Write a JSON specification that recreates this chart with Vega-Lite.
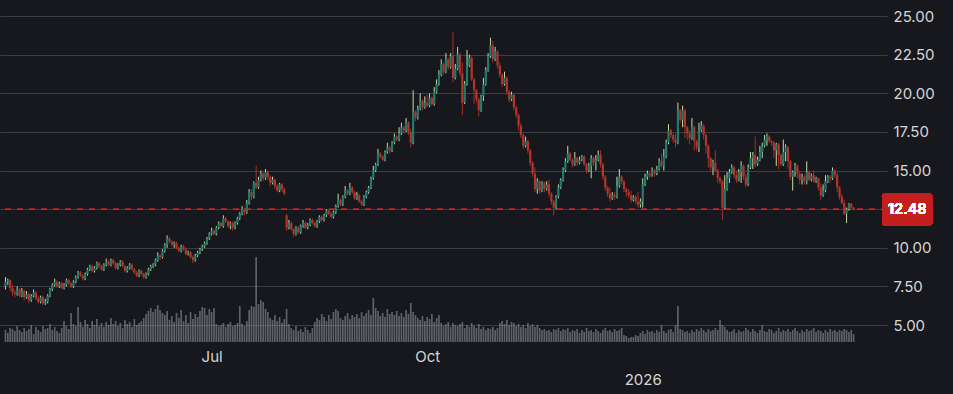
{
"$schema":"https://vega.github.io/schema/vega-lite/v6.json",
"width":887,"height":342,
"autosize":"none",
"padding":{"left":0,"top":0,"right":66,"bottom":52},
"background":"#16181d",
"config":{"view":{"stroke":null},"font":"Inter"},
"data":{"values":[
{"d":"2025-04-04","o":7.5,"h":8.1,"l":7.3,"c":7.8,"v":12},
{"d":"2025-04-05","o":7.8,"h":8.0,"l":7.6,"c":7.9,"v":9},
{"d":"2025-04-06","o":7.9,"h":7.95,"l":7.2,"c":7.4,"v":14},
{"d":"2025-04-07","o":7.4,"h":7.6,"l":6.9,"c":7.1,"v":13},
{"d":"2025-04-08","o":7.1,"h":7.3,"l":6.8,"c":7.0,"v":11},
{"d":"2025-04-09","o":7.0,"h":7.5,"l":6.9,"c":7.3,"v":16},
{"d":"2025-04-10","o":7.3,"h":7.4,"l":6.8,"c":6.9,"v":12},
{"d":"2025-04-11","o":6.9,"h":7.4,"l":6.8,"c":7.2,"v":10},
{"d":"2025-04-12","o":7.2,"h":7.3,"l":6.6,"c":6.8,"v":14},
{"d":"2025-04-13","o":6.8,"h":7.2,"l":6.7,"c":7.0,"v":11},
{"d":"2025-04-14","o":7.0,"h":7.1,"l":6.4,"c":6.6,"v":13},
{"d":"2025-04-15","o":6.6,"h":7.0,"l":6.5,"c":6.9,"v":17},
{"d":"2025-04-16","o":6.9,"h":7.3,"l":6.8,"c":7.1,"v":8},
{"d":"2025-04-17","o":7.1,"h":7.2,"l":6.6,"c":6.7,"v":15},
{"d":"2025-04-18","o":6.7,"h":6.9,"l":6.4,"c":6.5,"v":12},
{"d":"2025-04-19","o":6.5,"h":6.9,"l":6.4,"c":6.8,"v":10},
{"d":"2025-04-20","o":6.8,"h":6.9,"l":6.3,"c":6.4,"v":16},
{"d":"2025-04-21","o":6.4,"h":6.7,"l":6.3,"c":6.5,"v":13},
{"d":"2025-04-22","o":6.5,"h":7.0,"l":6.4,"c":6.9,"v":14},
{"d":"2025-04-23","o":6.9,"h":7.4,"l":6.8,"c":7.3,"v":18},
{"d":"2025-04-24","o":7.3,"h":7.7,"l":7.2,"c":7.6,"v":12},
{"d":"2025-04-25","o":7.6,"h":8.0,"l":7.5,"c":7.8,"v":15},
{"d":"2025-04-26","o":7.8,"h":7.9,"l":7.4,"c":7.5,"v":11},
{"d":"2025-04-27","o":7.5,"h":7.8,"l":7.4,"c":7.7,"v":9},
{"d":"2025-04-28","o":7.7,"h":7.8,"l":7.3,"c":7.4,"v":14},
{"d":"2025-04-29","o":7.4,"h":7.7,"l":7.3,"c":7.6,"v":21},
{"d":"2025-04-30","o":7.6,"h":8.0,"l":7.5,"c":7.9,"v":16},
{"d":"2025-05-01","o":7.9,"h":8.0,"l":7.6,"c":7.7,"v":13},
{"d":"2025-05-02","o":7.7,"h":7.8,"l":7.4,"c":7.5,"v":29},
{"d":"2025-05-03","o":7.5,"h":7.9,"l":7.4,"c":7.8,"v":18},
{"d":"2025-05-04","o":7.8,"h":8.2,"l":7.7,"c":8.1,"v":16},
{"d":"2025-05-05","o":8.1,"h":8.5,"l":8.0,"c":8.4,"v":35},
{"d":"2025-05-06","o":8.4,"h":8.5,"l":8.1,"c":8.2,"v":20},
{"d":"2025-05-07","o":8.2,"h":8.3,"l":7.9,"c":8.0,"v":15},
{"d":"2025-05-08","o":8.0,"h":8.4,"l":7.9,"c":8.3,"v":22},
{"d":"2025-05-09","o":8.3,"h":8.7,"l":8.2,"c":8.6,"v":18},
{"d":"2025-05-10","o":8.6,"h":8.9,"l":8.5,"c":8.8,"v":14},
{"d":"2025-05-11","o":8.8,"h":8.9,"l":8.4,"c":8.5,"v":21},
{"d":"2025-05-12","o":8.5,"h":8.8,"l":8.4,"c":8.7,"v":17},
{"d":"2025-05-13","o":8.7,"h":9.1,"l":8.6,"c":9.0,"v":23},
{"d":"2025-05-14","o":9.0,"h":9.1,"l":8.7,"c":8.8,"v":16},
{"d":"2025-05-15","o":8.8,"h":8.9,"l":8.5,"c":8.6,"v":19},
{"d":"2025-05-16","o":8.6,"h":9.0,"l":8.5,"c":8.9,"v":15},
{"d":"2025-05-17","o":8.9,"h":9.3,"l":8.8,"c":9.1,"v":20},
{"d":"2025-05-18","o":9.1,"h":9.2,"l":8.8,"c":8.9,"v":17},
{"d":"2025-05-19","o":8.9,"h":9.3,"l":8.8,"c":9.2,"v":24},
{"d":"2025-05-20","o":9.2,"h":9.3,"l":8.9,"c":9.0,"v":18},
{"d":"2025-05-21","o":9.0,"h":9.1,"l":8.6,"c":8.7,"v":21},
{"d":"2025-05-22","o":8.7,"h":9.0,"l":8.6,"c":8.9,"v":16},
{"d":"2025-05-23","o":8.9,"h":9.2,"l":8.8,"c":9.1,"v":19},
{"d":"2025-05-24","o":9.1,"h":9.2,"l":8.7,"c":8.8,"v":14},
{"d":"2025-05-25","o":8.8,"h":8.9,"l":8.4,"c":8.5,"v":22},
{"d":"2025-05-26","o":8.5,"h":8.8,"l":8.4,"c":8.7,"v":18},
{"d":"2025-05-27","o":8.7,"h":9.0,"l":8.6,"c":8.9,"v":20},
{"d":"2025-05-28","o":8.9,"h":9.0,"l":8.5,"c":8.6,"v":15},
{"d":"2025-05-29","o":8.6,"h":8.7,"l":8.3,"c":8.4,"v":23},
{"d":"2025-05-30","o":8.4,"h":8.5,"l":8.1,"c":8.2,"v":17},
{"d":"2025-05-31","o":8.2,"h":8.6,"l":8.1,"c":8.5,"v":19},
{"d":"2025-06-01","o":8.5,"h":8.6,"l":8.2,"c":8.3,"v":21},
{"d":"2025-06-02","o":8.3,"h":8.4,"l":8.0,"c":8.1,"v":24},
{"d":"2025-06-03","o":8.1,"h":8.4,"l":8.0,"c":8.3,"v":28},
{"d":"2025-06-04","o":8.3,"h":8.7,"l":8.2,"c":8.6,"v":31},
{"d":"2025-06-05","o":8.6,"h":8.9,"l":8.5,"c":8.8,"v":34},
{"d":"2025-06-06","o":8.8,"h":9.0,"l":8.7,"c":8.9,"v":30},
{"d":"2025-06-07","o":8.9,"h":9.3,"l":8.8,"c":9.2,"v":33},
{"d":"2025-06-08","o":9.2,"h":9.7,"l":9.1,"c":9.5,"v":37},
{"d":"2025-06-09","o":9.5,"h":9.6,"l":9.2,"c":9.4,"v":32},
{"d":"2025-06-10","o":9.4,"h":9.9,"l":9.3,"c":9.8,"v":29},
{"d":"2025-06-11","o":9.8,"h":10.3,"l":9.7,"c":10.2,"v":27},
{"d":"2025-06-12","o":10.2,"h":10.8,"l":10.0,"c":10.6,"v":31},
{"d":"2025-06-13","o":10.6,"h":10.7,"l":10.3,"c":10.4,"v":22},
{"d":"2025-06-14","o":10.4,"h":10.5,"l":10.1,"c":10.2,"v":26},
{"d":"2025-06-15","o":10.2,"h":10.4,"l":10.0,"c":10.3,"v":20},
{"d":"2025-06-16","o":10.3,"h":10.4,"l":9.9,"c":10.0,"v":29},
{"d":"2025-06-17","o":10.0,"h":10.1,"l":9.7,"c":9.8,"v":24},
{"d":"2025-06-18","o":9.8,"h":10.2,"l":9.7,"c":10.1,"v":32},
{"d":"2025-06-19","o":10.1,"h":10.2,"l":9.8,"c":9.9,"v":21},
{"d":"2025-06-20","o":9.9,"h":10.0,"l":9.5,"c":9.6,"v":27},
{"d":"2025-06-21","o":9.6,"h":9.8,"l":9.5,"c":9.7,"v":19},
{"d":"2025-06-22","o":9.7,"h":9.8,"l":9.3,"c":9.4,"v":30},
{"d":"2025-06-23","o":9.4,"h":9.5,"l":9.0,"c":9.2,"v":23},
{"d":"2025-06-24","o":9.2,"h":9.6,"l":9.1,"c":9.5,"v":28},
{"d":"2025-06-25","o":9.5,"h":9.8,"l":9.4,"c":9.7,"v":25},
{"d":"2025-06-26","o":9.7,"h":10.0,"l":9.6,"c":9.9,"v":31},
{"d":"2025-06-27","o":9.9,"h":10.2,"l":9.8,"c":10.1,"v":35},
{"d":"2025-06-28","o":10.1,"h":10.4,"l":10.0,"c":10.3,"v":34},
{"d":"2025-06-29","o":10.3,"h":10.7,"l":10.2,"c":10.6,"v":27},
{"d":"2025-06-30","o":10.6,"h":11.0,"l":10.5,"c":10.9,"v":33},
{"d":"2025-07-01","o":10.9,"h":11.3,"l":10.8,"c":11.1,"v":30},
{"d":"2025-07-02","o":11.1,"h":11.2,"l":10.8,"c":10.9,"v":34},
{"d":"2025-07-03","o":10.9,"h":11.4,"l":10.8,"c":11.3,"v":18},
{"d":"2025-07-04","o":11.3,"h":11.7,"l":11.2,"c":11.6,"v":16},
{"d":"2025-07-05","o":11.6,"h":11.7,"l":11.3,"c":11.4,"v":17},
{"d":"2025-07-06","o":11.4,"h":12.1,"l":11.3,"c":11.9,"v":19},
{"d":"2025-07-07","o":11.9,"h":12.0,"l":11.6,"c":11.7,"v":15},
{"d":"2025-07-08","o":11.7,"h":11.8,"l":11.3,"c":11.4,"v":18},
{"d":"2025-07-09","o":11.4,"h":11.7,"l":11.2,"c":11.6,"v":20},
{"d":"2025-07-10","o":11.6,"h":11.7,"l":11.1,"c":11.3,"v":16},
{"d":"2025-07-11","o":11.3,"h":11.7,"l":11.2,"c":11.6,"v":17},
{"d":"2025-07-12","o":11.6,"h":12.0,"l":11.5,"c":11.9,"v":19},
{"d":"2025-07-13","o":11.9,"h":12.3,"l":11.8,"c":12.2,"v":36},
{"d":"2025-07-14","o":12.2,"h":12.7,"l":12.1,"c":12.5,"v":18},
{"d":"2025-07-15","o":12.5,"h":12.6,"l":12.1,"c":12.3,"v":16},
{"d":"2025-07-16","o":12.3,"h":13.1,"l":12.2,"c":12.9,"v":21},
{"d":"2025-07-17","o":12.9,"h":13.8,"l":12.8,"c":13.6,"v":32},
{"d":"2025-07-18","o":13.6,"h":13.8,"l":13.1,"c":13.3,"v":36},
{"d":"2025-07-19","o":13.3,"h":14.3,"l":13.2,"c":14.2,"v":35},
{"d":"2025-07-20","o":14.2,"h":15.3,"l":13.8,"c":13.9,"v":85},
{"d":"2025-07-21","o":13.9,"h":14.6,"l":13.8,"c":14.4,"v":38},
{"d":"2025-07-22","o":14.4,"h":15.0,"l":14.3,"c":14.8,"v":42},
{"d":"2025-07-23","o":14.8,"h":14.9,"l":14.3,"c":14.5,"v":40},
{"d":"2025-07-24","o":14.5,"h":15.1,"l":14.4,"c":14.9,"v":33},
{"d":"2025-07-25","o":14.9,"h":15.0,"l":14.4,"c":14.6,"v":30},
{"d":"2025-07-26","o":14.6,"h":14.7,"l":14.0,"c":14.2,"v":24},
{"d":"2025-07-27","o":14.2,"h":14.6,"l":14.1,"c":14.4,"v":22},
{"d":"2025-07-28","o":14.4,"h":14.5,"l":13.8,"c":14.0,"v":27},
{"d":"2025-07-29","o":14.0,"h":14.1,"l":13.6,"c":13.7,"v":21},
{"d":"2025-07-30","o":13.7,"h":14.2,"l":13.6,"c":14.1,"v":25},
{"d":"2025-07-31","o":14.1,"h":14.2,"l":13.6,"c":13.8,"v":19},
{"d":"2025-08-01","o":13.8,"h":13.9,"l":13.4,"c":13.5,"v":23},
{"d":"2025-08-02","o":12.1,"h":12.2,"l":11.1,"c":11.3,"v":33},
{"d":"2025-08-03","o":11.3,"h":11.8,"l":11.2,"c":11.6,"v":18},
{"d":"2025-08-04","o":11.6,"h":11.7,"l":11.1,"c":11.2,"v":14},
{"d":"2025-08-05","o":11.2,"h":11.3,"l":10.7,"c":10.9,"v":12},
{"d":"2025-08-06","o":10.9,"h":11.4,"l":10.8,"c":11.3,"v":16},
{"d":"2025-08-07","o":11.3,"h":11.4,"l":10.9,"c":11.0,"v":11},
{"d":"2025-08-08","o":11.0,"h":11.5,"l":10.9,"c":11.4,"v":13},
{"d":"2025-08-09","o":11.4,"h":11.8,"l":11.3,"c":11.6,"v":10},
{"d":"2025-08-10","o":11.6,"h":11.7,"l":11.2,"c":11.3,"v":15},
{"d":"2025-08-11","o":11.3,"h":11.6,"l":11.2,"c":11.5,"v":12},
{"d":"2025-08-12","o":11.5,"h":11.9,"l":11.4,"c":11.8,"v":9},
{"d":"2025-08-13","o":11.8,"h":11.9,"l":11.5,"c":11.6,"v":14},
{"d":"2025-08-14","o":11.6,"h":11.7,"l":11.3,"c":11.4,"v":20},
{"d":"2025-08-15","o":11.4,"h":11.8,"l":11.3,"c":11.7,"v":24},
{"d":"2025-08-16","o":11.7,"h":12.1,"l":11.6,"c":12.0,"v":22},
{"d":"2025-08-17","o":12.0,"h":12.1,"l":11.7,"c":11.8,"v":28},
{"d":"2025-08-18","o":11.8,"h":12.2,"l":11.7,"c":12.1,"v":25},
{"d":"2025-08-19","o":12.1,"h":12.5,"l":12.0,"c":12.4,"v":21},
{"d":"2025-08-20","o":12.4,"h":12.5,"l":12.1,"c":12.2,"v":27},
{"d":"2025-08-21","o":12.2,"h":12.3,"l":11.9,"c":12.0,"v":23},
{"d":"2025-08-22","o":12.0,"h":12.4,"l":11.9,"c":12.3,"v":30},
{"d":"2025-08-23","o":12.3,"h":12.8,"l":12.2,"c":12.7,"v":33},
{"d":"2025-08-24","o":12.7,"h":13.5,"l":12.6,"c":13.1,"v":31},
{"d":"2025-08-25","o":13.1,"h":13.2,"l":12.7,"c":12.8,"v":24},
{"d":"2025-08-26","o":12.8,"h":13.4,"l":12.7,"c":13.3,"v":22},
{"d":"2025-08-27","o":13.3,"h":14.0,"l":13.2,"c":13.7,"v":26},
{"d":"2025-08-28","o":13.7,"h":13.8,"l":13.4,"c":13.5,"v":29},
{"d":"2025-08-29","o":13.5,"h":14.2,"l":13.4,"c":13.9,"v":23},
{"d":"2025-08-30","o":13.9,"h":14.0,"l":13.5,"c":13.6,"v":27},
{"d":"2025-08-31","o":13.6,"h":13.7,"l":13.1,"c":13.2,"v":25},
{"d":"2025-09-01","o":13.2,"h":13.6,"l":13.1,"c":13.4,"v":28},
{"d":"2025-09-02","o":13.4,"h":13.5,"l":12.9,"c":13.0,"v":24},
{"d":"2025-09-03","o":13.0,"h":13.1,"l":12.7,"c":12.8,"v":30},
{"d":"2025-09-04","o":12.8,"h":13.4,"l":12.7,"c":13.3,"v":26},
{"d":"2025-09-05","o":13.3,"h":13.7,"l":13.2,"c":13.6,"v":29},
{"d":"2025-09-06","o":13.6,"h":14.0,"l":13.5,"c":13.9,"v":32},
{"d":"2025-09-07","o":13.9,"h":14.6,"l":13.8,"c":14.5,"v":27},
{"d":"2025-09-08","o":14.5,"h":15.3,"l":14.4,"c":15.0,"v":44},
{"d":"2025-09-09","o":15.0,"h":15.5,"l":14.9,"c":15.4,"v":34},
{"d":"2025-09-10","o":15.4,"h":16.4,"l":15.3,"c":16.1,"v":31},
{"d":"2025-09-11","o":16.1,"h":16.2,"l":15.8,"c":15.9,"v":26},
{"d":"2025-09-12","o":15.9,"h":16.0,"l":15.6,"c":15.7,"v":29},
{"d":"2025-09-13","o":15.7,"h":16.3,"l":15.6,"c":16.2,"v":25},
{"d":"2025-09-14","o":16.2,"h":16.8,"l":16.1,"c":16.5,"v":33},
{"d":"2025-09-15","o":16.5,"h":16.6,"l":16.1,"c":16.3,"v":28},
{"d":"2025-09-16","o":16.3,"h":16.9,"l":16.2,"c":16.8,"v":30},
{"d":"2025-09-17","o":16.8,"h":17.4,"l":16.7,"c":17.2,"v":27},
{"d":"2025-09-18","o":17.2,"h":17.3,"l":16.9,"c":17.0,"v":31},
{"d":"2025-09-19","o":17.0,"h":17.8,"l":16.9,"c":17.4,"v":26},
{"d":"2025-09-20","o":17.4,"h":18.1,"l":17.3,"c":17.8,"v":29},
{"d":"2025-09-21","o":17.8,"h":17.9,"l":17.4,"c":17.6,"v":25},
{"d":"2025-09-22","o":17.6,"h":18.4,"l":17.5,"c":18.1,"v":32},
{"d":"2025-09-23","o":18.1,"h":18.2,"l":17.3,"c":17.5,"v":28},
{"d":"2025-09-24","o":17.5,"h":17.7,"l":16.5,"c":16.8,"v":39},
{"d":"2025-09-25","o":16.8,"h":20.2,"l":16.7,"c":18.8,"v":30},
{"d":"2025-09-26","o":18.8,"h":18.9,"l":18.2,"c":18.4,"v":27},
{"d":"2025-09-27","o":18.4,"h":19.2,"l":18.3,"c":19.0,"v":24},
{"d":"2025-09-28","o":19.0,"h":20.0,"l":18.9,"c":19.5,"v":22},
{"d":"2025-09-29","o":19.5,"h":19.6,"l":18.9,"c":19.1,"v":26},
{"d":"2025-09-30","o":19.1,"h":19.8,"l":19.0,"c":19.4,"v":21},
{"d":"2025-10-01","o":19.4,"h":19.9,"l":19.1,"c":19.2,"v":25},
{"d":"2025-10-02","o":19.2,"h":20.0,"l":19.1,"c":19.7,"v":23},
{"d":"2025-10-03","o":19.7,"h":19.8,"l":19.2,"c":19.3,"v":28},
{"d":"2025-10-04","o":19.3,"h":20.4,"l":19.2,"c":20.1,"v":20},
{"d":"2025-10-05","o":20.1,"h":20.9,"l":20.0,"c":20.6,"v":24},
{"d":"2025-10-06","o":20.6,"h":21.5,"l":20.5,"c":21.2,"v":27},
{"d":"2025-10-07","o":21.2,"h":22.2,"l":21.1,"c":21.9,"v":19},
{"d":"2025-10-08","o":21.9,"h":22.0,"l":21.2,"c":21.4,"v":16},
{"d":"2025-10-09","o":21.4,"h":22.6,"l":21.3,"c":22.2,"v":18},
{"d":"2025-10-10","o":22.2,"h":22.3,"l":21.5,"c":21.7,"v":20},
{"d":"2025-10-11","o":21.7,"h":22.6,"l":21.6,"c":22.4,"v":15},
{"d":"2025-10-12","o":22.4,"h":24.0,"l":20.7,"c":21.0,"v":19},
{"d":"2025-10-13","o":21.0,"h":21.9,"l":20.9,"c":21.6,"v":17},
{"d":"2025-10-14","o":21.6,"h":23.0,"l":21.5,"c":22.5,"v":16},
{"d":"2025-10-15","o":22.5,"h":22.6,"l":21.1,"c":21.3,"v":18},
{"d":"2025-10-16","o":21.3,"h":22.0,"l":18.6,"c":19.4,"v":20},
{"d":"2025-10-17","o":19.4,"h":20.8,"l":19.3,"c":20.6,"v":14},
{"d":"2025-10-18","o":20.6,"h":22.8,"l":20.5,"c":21.8,"v":17},
{"d":"2025-10-19","o":21.8,"h":22.5,"l":21.7,"c":22.3,"v":15},
{"d":"2025-10-20","o":22.3,"h":22.4,"l":20.8,"c":20.9,"v":19},
{"d":"2025-10-21","o":20.9,"h":21.0,"l":19.3,"c":20.2,"v":16},
{"d":"2025-10-22","o":20.2,"h":20.3,"l":19.4,"c":19.6,"v":14},
{"d":"2025-10-23","o":19.6,"h":19.7,"l":18.5,"c":18.9,"v":18},
{"d":"2025-10-24","o":18.9,"h":19.9,"l":18.8,"c":19.8,"v":13},
{"d":"2025-10-25","o":19.8,"h":21.0,"l":19.5,"c":20.6,"v":15},
{"d":"2025-10-26","o":20.6,"h":21.7,"l":20.5,"c":21.5,"v":12},
{"d":"2025-10-27","o":21.5,"h":22.6,"l":21.4,"c":22.4,"v":14},
{"d":"2025-10-28","o":22.4,"h":23.6,"l":22.3,"c":23.1,"v":13},
{"d":"2025-10-29","o":23.1,"h":23.4,"l":22.0,"c":22.2,"v":15},
{"d":"2025-10-30","o":22.2,"h":23.0,"l":22.1,"c":22.7,"v":12},
{"d":"2025-10-31","o":22.7,"h":22.8,"l":21.6,"c":21.8,"v":14},
{"d":"2025-11-01","o":21.8,"h":22.0,"l":21.0,"c":21.2,"v":19},
{"d":"2025-11-02","o":21.2,"h":21.3,"l":20.4,"c":20.6,"v":21},
{"d":"2025-11-03","o":20.6,"h":21.4,"l":20.5,"c":21.0,"v":18},
{"d":"2025-11-04","o":21.0,"h":21.1,"l":19.9,"c":20.1,"v":22},
{"d":"2025-11-05","o":20.1,"h":20.2,"l":19.4,"c":19.6,"v":17},
{"d":"2025-11-06","o":19.6,"h":20.1,"l":19.5,"c":19.9,"v":20},
{"d":"2025-11-07","o":19.9,"h":20.0,"l":18.9,"c":19.1,"v":19},
{"d":"2025-11-08","o":19.1,"h":19.2,"l":18.4,"c":18.6,"v":16},
{"d":"2025-11-09","o":18.6,"h":18.7,"l":17.6,"c":17.9,"v":18},
{"d":"2025-11-10","o":17.9,"h":18.1,"l":17.1,"c":17.3,"v":15},
{"d":"2025-11-11","o":17.3,"h":17.4,"l":16.4,"c":16.6,"v":17},
{"d":"2025-11-12","o":16.6,"h":17.2,"l":16.5,"c":16.9,"v":14},
{"d":"2025-11-13","o":16.9,"h":17.0,"l":16.1,"c":16.3,"v":19},
{"d":"2025-11-14","o":16.3,"h":16.4,"l":15.3,"c":15.5,"v":16},
{"d":"2025-11-15","o":15.5,"h":15.6,"l":14.6,"c":14.8,"v":18},
{"d":"2025-11-16","o":14.8,"h":15.2,"l":13.6,"c":13.8,"v":15},
{"d":"2025-11-17","o":13.8,"h":14.5,"l":13.5,"c":14.3,"v":17},
{"d":"2025-11-18","o":14.3,"h":14.4,"l":13.5,"c":13.7,"v":14},
{"d":"2025-11-19","o":13.7,"h":14.3,"l":13.6,"c":14.2,"v":12},
{"d":"2025-11-20","o":14.2,"h":14.3,"l":13.6,"c":13.8,"v":13},
{"d":"2025-11-21","o":13.8,"h":14.3,"l":13.7,"c":14.1,"v":11},
{"d":"2025-11-22","o":14.1,"h":14.4,"l":13.3,"c":13.5,"v":12},
{"d":"2025-11-23","o":13.5,"h":13.6,"l":12.8,"c":13.0,"v":10},
{"d":"2025-11-24","o":13.0,"h":13.1,"l":12.1,"c":12.6,"v":13},
{"d":"2025-11-25","o":12.6,"h":13.4,"l":12.5,"c":13.3,"v":12},
{"d":"2025-11-26","o":13.3,"h":14.1,"l":13.2,"c":13.9,"v":14},
{"d":"2025-11-27","o":13.9,"h":14.5,"l":13.8,"c":14.4,"v":11},
{"d":"2025-11-28","o":14.4,"h":15.2,"l":14.3,"c":15.0,"v":13},
{"d":"2025-11-29","o":15.0,"h":15.8,"l":14.9,"c":15.6,"v":12},
{"d":"2025-11-30","o":15.6,"h":16.6,"l":15.5,"c":16.1,"v":14},
{"d":"2025-12-01","o":16.1,"h":16.2,"l":15.6,"c":15.7,"v":10},
{"d":"2025-12-02","o":15.7,"h":15.8,"l":15.2,"c":15.4,"v":12},
{"d":"2025-12-03","o":15.4,"h":16.2,"l":15.3,"c":15.8,"v":11},
{"d":"2025-12-04","o":15.8,"h":15.9,"l":15.3,"c":15.5,"v":13},
{"d":"2025-12-05","o":15.5,"h":15.9,"l":15.4,"c":15.7,"v":9},
{"d":"2025-12-06","o":15.7,"h":16.0,"l":15.6,"c":15.9,"v":12},
{"d":"2025-12-07","o":15.9,"h":16.0,"l":15.3,"c":15.4,"v":10},
{"d":"2025-12-08","o":15.4,"h":15.5,"l":14.8,"c":15.0,"v":14},
{"d":"2025-12-09","o":15.0,"h":15.5,"l":14.9,"c":15.3,"v":11},
{"d":"2025-12-10","o":15.3,"h":16.0,"l":14.5,"c":15.8,"v":12},
{"d":"2025-12-11","o":15.8,"h":15.9,"l":15.3,"c":15.5,"v":10},
{"d":"2025-12-12","o":15.5,"h":16.0,"l":15.0,"c":15.7,"v":13},
{"d":"2025-12-13","o":15.7,"h":16.3,"l":15.6,"c":16.0,"v":11},
{"d":"2025-12-14","o":16.0,"h":16.3,"l":15.2,"c":15.4,"v":9},
{"d":"2025-12-15","o":15.4,"h":15.5,"l":14.4,"c":14.6,"v":12},
{"d":"2025-12-16","o":14.6,"h":14.7,"l":13.7,"c":13.9,"v":14},
{"d":"2025-12-17","o":13.9,"h":14.0,"l":13.3,"c":13.5,"v":11},
{"d":"2025-12-18","o":13.5,"h":13.9,"l":13.0,"c":13.2,"v":12},
{"d":"2025-12-19","o":13.2,"h":13.6,"l":13.1,"c":13.4,"v":10},
{"d":"2025-12-20","o":13.4,"h":13.6,"l":13.1,"c":13.3,"v":13},
{"d":"2025-12-21","o":13.3,"h":14.6,"l":13.2,"c":14.0,"v":11},
{"d":"2025-12-22","o":14.0,"h":15.1,"l":13.9,"c":14.6,"v":12},
{"d":"2025-12-23","o":14.6,"h":14.7,"l":14.1,"c":14.3,"v":14},
{"d":"2025-12-24","o":14.3,"h":14.4,"l":13.6,"c":13.8,"v":7},
{"d":"2025-12-25","o":13.8,"h":13.9,"l":13.3,"c":13.6,"v":6},
{"d":"2025-12-26","o":13.6,"h":13.8,"l":13.2,"c":13.4,"v":4},
{"d":"2025-12-27","o":13.4,"h":13.7,"l":12.9,"c":13.1,"v":5},
{"d":"2025-12-28","o":13.1,"h":13.4,"l":13.0,"c":13.3,"v":5},
{"d":"2025-12-29","o":13.3,"h":13.4,"l":12.8,"c":13.0,"v":7},
{"d":"2025-12-30","o":13.0,"h":13.6,"l":12.6,"c":12.8,"v":6},
{"d":"2025-12-31","o":12.8,"h":13.2,"l":12.6,"c":13.0,"v":9},
{"d":"2026-01-01","o":13.0,"h":14.5,"l":12.6,"c":14.1,"v":11},
{"d":"2026-01-02","o":14.1,"h":14.8,"l":14.0,"c":14.6,"v":8},
{"d":"2026-01-03","o":14.6,"h":15.0,"l":14.4,"c":14.8,"v":12},
{"d":"2026-01-04","o":14.8,"h":14.9,"l":14.5,"c":14.7,"v":10},
{"d":"2026-01-05","o":14.7,"h":15.2,"l":14.6,"c":15.0,"v":11},
{"d":"2026-01-06","o":15.0,"h":15.1,"l":14.6,"c":14.8,"v":9},
{"d":"2026-01-07","o":14.8,"h":15.3,"l":14.7,"c":15.1,"v":12},
{"d":"2026-01-08","o":15.1,"h":15.8,"l":15.0,"c":15.6,"v":10},
{"d":"2026-01-09","o":15.6,"h":16.1,"l":15.2,"c":15.3,"v":17},
{"d":"2026-01-10","o":15.3,"h":16.4,"l":15.0,"c":15.9,"v":11},
{"d":"2026-01-11","o":15.9,"h":17.0,"l":15.8,"c":16.8,"v":9},
{"d":"2026-01-12","o":16.8,"h":18.0,"l":16.7,"c":17.6,"v":12},
{"d":"2026-01-13","o":17.6,"h":17.7,"l":17.1,"c":17.3,"v":13},
{"d":"2026-01-14","o":17.3,"h":17.4,"l":16.8,"c":17.0,"v":10},
{"d":"2026-01-15","o":17.0,"h":17.4,"l":16.5,"c":16.8,"v":17},
{"d":"2026-01-16","o":16.8,"h":19.4,"l":16.7,"c":18.9,"v":36},
{"d":"2026-01-17","o":18.9,"h":19.0,"l":18.1,"c":18.3,"v":13},
{"d":"2026-01-18","o":18.3,"h":19.2,"l":17.8,"c":18.9,"v":12},
{"d":"2026-01-19","o":18.9,"h":19.0,"l":17.1,"c":17.8,"v":10},
{"d":"2026-01-20","o":17.8,"h":17.9,"l":17.0,"c":17.4,"v":11},
{"d":"2026-01-21","o":17.4,"h":17.6,"l":16.7,"c":17.1,"v":9},
{"d":"2026-01-22","o":17.1,"h":18.4,"l":17.0,"c":17.8,"v":12},
{"d":"2026-01-23","o":17.8,"h":17.9,"l":16.3,"c":16.9,"v":10},
{"d":"2026-01-24","o":16.9,"h":17.0,"l":16.3,"c":16.5,"v":13},
{"d":"2026-01-25","o":16.5,"h":18.1,"l":16.2,"c":17.6,"v":11},
{"d":"2026-01-26","o":17.6,"h":18.2,"l":17.5,"c":17.9,"v":14},
{"d":"2026-01-27","o":17.9,"h":18.0,"l":17.0,"c":17.3,"v":12},
{"d":"2026-01-28","o":17.3,"h":17.4,"l":16.1,"c":16.6,"v":10},
{"d":"2026-01-29","o":16.6,"h":16.7,"l":15.2,"c":15.8,"v":13},
{"d":"2026-01-30","o":15.8,"h":15.9,"l":15.0,"c":15.2,"v":11},
{"d":"2026-01-31","o":15.2,"h":15.7,"l":14.7,"c":15.5,"v":12},
{"d":"2026-02-01","o":15.5,"h":16.3,"l":14.9,"c":15.0,"v":14},
{"d":"2026-02-02","o":15.0,"h":15.1,"l":14.2,"c":14.5,"v":12},
{"d":"2026-02-03","o":14.5,"h":14.6,"l":14.1,"c":14.3,"v":22},
{"d":"2026-02-04","o":14.3,"h":14.4,"l":11.8,"c":12.6,"v":17},
{"d":"2026-02-05","o":12.6,"h":14.7,"l":12.5,"c":13.8,"v":15},
{"d":"2026-02-06","o":13.8,"h":14.9,"l":13.7,"c":14.5,"v":12},
{"d":"2026-02-07","o":14.5,"h":15.1,"l":14.2,"c":14.9,"v":10},
{"d":"2026-02-08","o":14.9,"h":15.4,"l":14.8,"c":15.2,"v":11},
{"d":"2026-02-09","o":15.2,"h":15.3,"l":14.5,"c":14.7,"v":13},
{"d":"2026-02-10","o":14.7,"h":15.0,"l":14.2,"c":14.4,"v":9},
{"d":"2026-02-11","o":14.4,"h":15.1,"l":14.3,"c":14.9,"v":12},
{"d":"2026-02-12","o":14.9,"h":15.6,"l":14.2,"c":15.3,"v":10},
{"d":"2026-02-13","o":15.3,"h":15.4,"l":14.4,"c":14.6,"v":11},
{"d":"2026-02-14","o":14.6,"h":14.8,"l":13.9,"c":14.1,"v":14},
{"d":"2026-02-15","o":14.1,"h":15.4,"l":14.0,"c":15.2,"v":12},
{"d":"2026-02-16","o":15.2,"h":16.2,"l":15.1,"c":15.8,"v":10},
{"d":"2026-02-17","o":15.8,"h":16.2,"l":15.1,"c":16.0,"v":13},
{"d":"2026-02-18","o":16.0,"h":17.2,"l":15.2,"c":15.4,"v":11},
{"d":"2026-02-19","o":15.4,"h":15.9,"l":15.3,"c":15.7,"v":9},
{"d":"2026-02-20","o":15.7,"h":16.6,"l":15.6,"c":16.2,"v":12},
{"d":"2026-02-21","o":16.2,"h":16.8,"l":15.8,"c":16.6,"v":17},
{"d":"2026-02-22","o":16.6,"h":17.3,"l":16.5,"c":17.0,"v":11},
{"d":"2026-02-23","o":17.0,"h":17.4,"l":16.6,"c":17.2,"v":10},
{"d":"2026-02-24","o":17.2,"h":17.3,"l":16.8,"c":16.9,"v":13},
{"d":"2026-02-25","o":16.9,"h":17.0,"l":16.6,"c":16.8,"v":12},
{"d":"2026-02-26","o":16.8,"h":16.9,"l":15.8,"c":16.3,"v":9},
{"d":"2026-02-27","o":16.3,"h":16.8,"l":15.3,"c":16.7,"v":11},
{"d":"2026-02-28","o":16.7,"h":16.8,"l":15.1,"c":16.0,"v":14},
{"d":"2026-03-01","o":16.0,"h":16.1,"l":15.3,"c":15.4,"v":10},
{"d":"2026-03-02","o":15.4,"h":17.0,"l":15.3,"c":16.2,"v":12},
{"d":"2026-03-03","o":16.2,"h":16.7,"l":15.6,"c":16.5,"v":11},
{"d":"2026-03-04","o":16.5,"h":16.6,"l":15.1,"c":15.6,"v":13},
{"d":"2026-03-05","o":15.6,"h":15.7,"l":14.4,"c":14.6,"v":10},
{"d":"2026-03-06","o":14.6,"h":15.0,"l":13.7,"c":14.9,"v":12},
{"d":"2026-03-07","o":14.9,"h":15.5,"l":14.6,"c":15.3,"v":14},
{"d":"2026-03-08","o":15.3,"h":15.4,"l":14.5,"c":14.8,"v":11},
{"d":"2026-03-09","o":14.8,"h":14.9,"l":14.1,"c":14.4,"v":9},
{"d":"2026-03-10","o":14.4,"h":14.8,"l":14.1,"c":14.6,"v":12},
{"d":"2026-03-11","o":14.6,"h":14.7,"l":14.1,"c":14.3,"v":10},
{"d":"2026-03-12","o":14.3,"h":15.6,"l":14.1,"c":14.9,"v":13},
{"d":"2026-03-13","o":14.9,"h":15.0,"l":14.3,"c":14.4,"v":11},
{"d":"2026-03-14","o":14.4,"h":14.8,"l":14.3,"c":14.7,"v":12},
{"d":"2026-03-15","o":14.7,"h":15.0,"l":14.2,"c":14.3,"v":14},
{"d":"2026-03-16","o":14.3,"h":14.6,"l":14.2,"c":14.5,"v":10},
{"d":"2026-03-17","o":14.5,"h":14.5,"l":13.7,"c":13.9,"v":12},
{"d":"2026-03-18","o":13.9,"h":14.2,"l":13.1,"c":13.4,"v":11},
{"d":"2026-03-19","o":13.4,"h":14.1,"l":13.3,"c":13.7,"v":9},
{"d":"2026-03-20","o":13.7,"h":14.7,"l":13.6,"c":14.3,"v":12},
{"d":"2026-03-21","o":14.3,"h":14.7,"l":14.2,"c":14.6,"v":10},
{"d":"2026-03-22","o":14.6,"h":14.7,"l":14.2,"c":14.5,"v":13},
{"d":"2026-03-23","o":14.5,"h":15.2,"l":14.4,"c":15.0,"v":11},
{"d":"2026-03-24","o":15.0,"h":15.1,"l":14.5,"c":14.7,"v":12},
{"d":"2026-03-25","o":14.7,"h":14.9,"l":13.6,"c":13.9,"v":10},
{"d":"2026-03-26","o":13.9,"h":14.0,"l":13.1,"c":13.3,"v":12},
{"d":"2026-03-27","o":13.3,"h":13.5,"l":12.8,"c":12.9,"v":11},
{"d":"2026-03-28","o":12.9,"h":13.1,"l":12.1,"c":12.2,"v":13},
{"d":"2026-03-29","o":12.2,"h":12.6,"l":11.6,"c":12.5,"v":12},
{"d":"2026-03-30","o":12.5,"h":12.9,"l":12.4,"c":12.85,"v":10},
{"d":"2026-03-31","o":12.85,"h":12.9,"l":12.55,"c":12.6,"v":12},
{"d":"2026-04-01","o":12.6,"h":12.62,"l":12.45,"c":12.48,"v":8}
]},
"layer":[
{"mark":{"type":"bar","width":1.7,"color":"#9a9ca3","opacity":0.55},
 "encoding":{
  "x":{"field":"d","type":"temporal",
   "scale":{"type":"utc","domain":[{"year":2025,"month":4,"date":3,"hours":19,"minutes":8,"utc":true},{"year":2026,"month":4,"date":13,"hours":3,"utc":true}]},
   "axis":{"title":null,"grid":false,"ticks":false,"domain":false,"labelPadding":7,"labelFontSize":15,"labelColor":"#d6d6d6","labelFont":"Inter","labelOverlap":false,"labelFlush":false,"labelLineHeight":23,
    "values":[{"year":2025,"month":7,"date":1,"utc":true},{"year":2025,"month":10,"date":1,"utc":true},{"year":2026,"month":1,"date":1,"utc":true}],
    "labelExpr":"utcyear(datum.value) == 2026 ? ['', '2026'] : utcFormat(datum.value, '%b')"}},
  "y":{"field":"v","type":"quantitative","scale":{"domain":[0,342]},"axis":null}}},
{"layer":[
 {"mark":{"type":"rule","color":"#b3302b","strokeDash":[6,6],"strokeWidth":1},
  "encoding":{"y":{"datum":12.48,"type":"quantitative"}}},
 {"mark":{"type":"rule","strokeWidth":1},
  "encoding":{
   "x":{"field":"d","type":"temporal"},
   "y":{"field":"l","type":"quantitative","scale":{"domain":[3.9,26.04],"nice":false,"zero":false},
    "axis":{"orient":"right","title":null,"values":[5,7.5,10,12.5,15,17.5,20,22.5,25],"format":".2f","labelExpr":"datum.value == 12.5 ? '' : format(datum.value, '.2f')","grid":true,"gridColor":"#3b3e45","gridWidth":1,"domain":false,"ticks":false,"labelPadding":6,"labelFontSize":15,"labelColor":"#d6d6d6","labelFont":"Inter"}},
   "y2":{"field":"h"},
   "color":{"condition":{"test":"datum.c >= datum.o","value":"#c3dca3"},"value":"#a33029"}}},
 {"mark":{"type":"bar","width":2.2},
  "encoding":{
   "x":{"field":"d","type":"temporal"},
   "y":{"field":"o","type":"quantitative"},
   "y2":{"field":"c"},
   "color":{"condition":{"test":"datum.c >= datum.o","value":"#1f7a6b"},"value":"#b3342b"}}},
 {"mark":{"type":"rect","color":"#c41e1e","cornerRadius":3},
  "encoding":{
   "x":{"datum":{"year":2026,"month":4,"date":13,"hours":3,"utc":true},"type":"temporal"},
   "x2":{"datum":{"year":2026,"month":5,"date":4,"hours":15,"utc":true}},
   "y":{"datum":13.515,"type":"quantitative"},
   "y2":{"datum":11.445}}},
 {"mark":{"type":"text","color":"#ffffff","fontSize":15,"font":"Inter","align":"center","baseline":"middle","text":"12.48"},
  "encoding":{
   "x":{"datum":{"year":2026,"month":4,"date":23,"hours":21,"utc":true},"type":"temporal"},
   "y":{"datum":12.48,"type":"quantitative"}}}
]}
],
"resolve":{"scale":{"y":"independent"}}
}
